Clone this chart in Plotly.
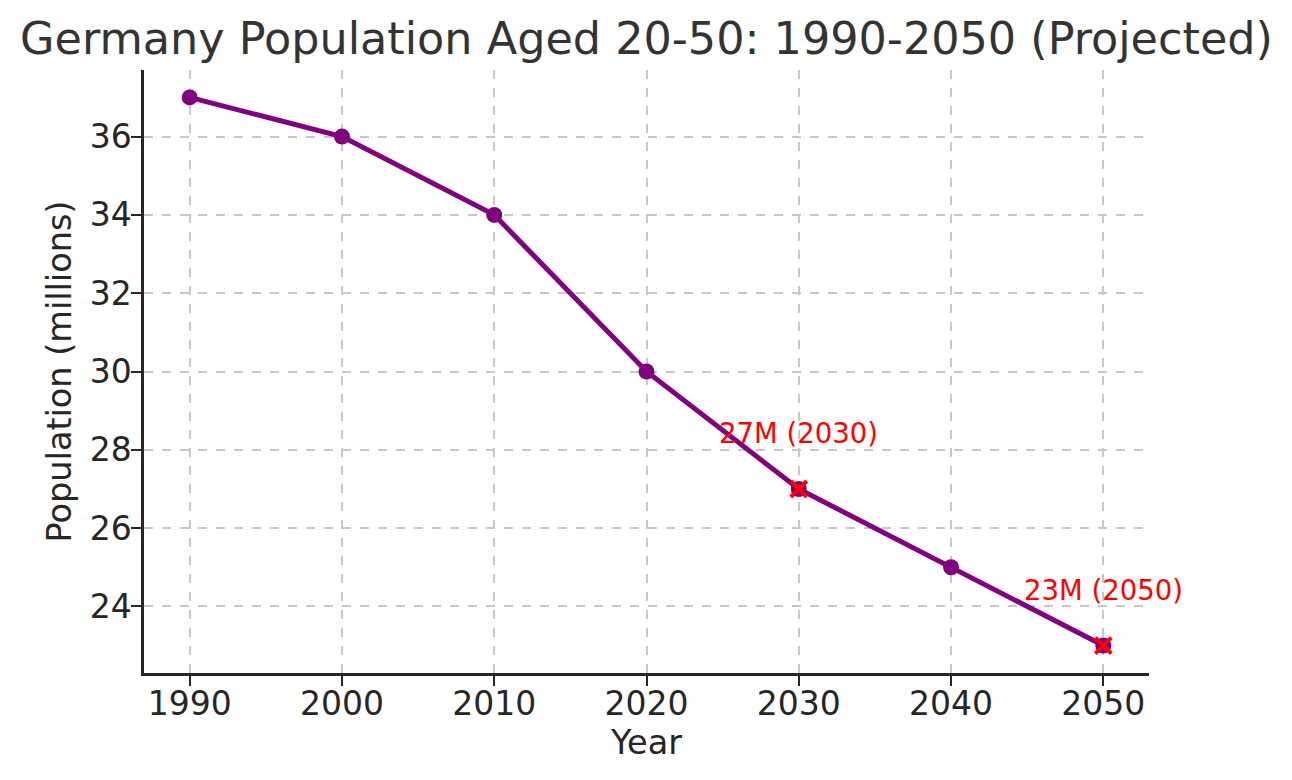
import plotly.graph_objects as go

years = [1990, 2000, 2010, 2020, 2030, 2040, 2050]
population = [37, 36, 34, 30, 27, 25, 23]

highlight_years = [2030, 2050]
highlight_values = [27, 23]
highlight_labels = ["27M (2030)", "23M (2050)"]

y_ticks = [24, 26, 28, 30, 32, 34, 36]

font_family = "DejaVu Sans"
text_color = "#262626"

fig = go.Figure()

fig.add_trace(go.Scatter(
    x=years,
    y=population,
    mode="lines+markers",
    line=dict(color="#800080", width=5),
    marker=dict(color="#800080", size=16),
    showlegend=False,
))

fig.add_trace(go.Scatter(
    x=highlight_years,
    y=highlight_values,
    mode="markers",
    marker=dict(color="#ff0000", size=16, symbol="x-thin",
                line=dict(color="#ff0000", width=4)),
    showlegend=False,
))

for yr, val, label in zip(highlight_years, highlight_values, highlight_labels):
    fig.add_annotation(
        x=yr, y=val, text=label, showarrow=False,
        yshift=56, yanchor="middle", xanchor="center",
        font=dict(family=font_family, size=27.5, color="#ff0000"),
    )

axis_common = dict(
    showline=True,
    linecolor="#262626",
    linewidth=2.5,
    showgrid=True,
    gridcolor="#c8c8c8",
    gridwidth=1.5,
    griddash="dash",
    zeroline=False,
    mirror=False,
    tickfont=dict(family=font_family, size=33, color=text_color),
)

fig.update_xaxes(
    range=[1987, 2053],
    tickvals=years,
    ticks="outside",
    ticklen=10,
    tickwidth=2,
    tickcolor="#262626",
    ticklabelstandoff=-10,
    title=dict(text="Year", font=dict(family=font_family, size=33.5, color=text_color), standoff=7),
    **axis_common,
)
fig.update_yaxes(
    range=[22.3, 37.7],
    tickvals=y_ticks,
    ticks="outside",
    ticklen=10,
    tickwidth=2,
    tickcolor="#262626",
    ticklabelstandoff=-7,
    title=dict(text="Population (millions)", font=dict(family=font_family, size=33.5, color=text_color), standoff=8),
    **axis_common,
)

fig.update_layout(
    width=1292,
    height=780,
    margin=dict(l=136, r=151, t=62, b=115),
    plot_bgcolor="white",
    paper_bgcolor="white",
    title=dict(
        text="Germany Population Aged 20-50: 1990-2050 (Projected)",
        font=dict(family=font_family, size=44.5, color="#333333"),
        x=0.5, xref="paper", xanchor="center",
        y=1 - 30 / 780, yanchor="middle",
    ),
)

fig.write_html("out.html")
